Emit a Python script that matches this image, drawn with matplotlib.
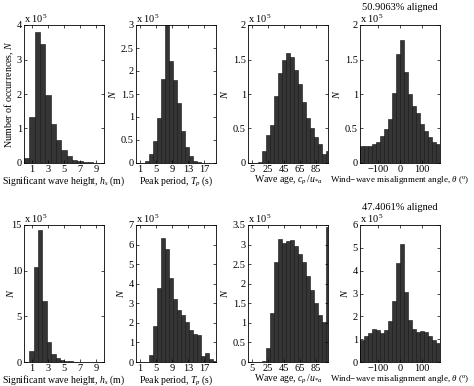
import numpy as np
import matplotlib
matplotlib.use("Agg")
import matplotlib.pyplot as plt
from matplotlib.ticker import FuncFormatter

plt.rcParams['font.family'] = ['Liberation Serif', 'DejaVu Serif']
plt.rcParams['mathtext.fontset'] = 'custom'
plt.rcParams['mathtext.rm'] = 'Liberation Serif'
plt.rcParams['mathtext.it'] = 'Liberation Serif:italic'
plt.rcParams['font.size'] = 7

# ---------------- data (counts in units of 1e5) ----------------
# Significant wave height
hs_edges_top = np.linspace(0, 10, 16)
hs_top = [0.15, 1.33, 3.79, 3.44, 1.98, 1.13, 0.66, 0.37, 0.20, 0.10, 0.06, 0.03, 0.02, 0.01, 0.005]
hs_edges_bot = 0.1 + 0.55 * np.arange(19)
hs_bot = [0.03, 1.2, 10.4, 14.4, 6.65, 2.2, 0.9, 0.4, 0.2, 0.1, 0.06, 0.04, 0.02, 0.01, 0.01, 0.005, 0.005, 0.003]

# Peak period
tp_edges = 0.3 + np.arange(21)
tp_top = [0.002, 0.004, 0.05, 0.2, 0.48, 0.97, 1.82, 3.0, 2.22, 1.8, 1.3, 0.7, 0.35, 0.15, 0.05,
          0.02, 0.01, 0.005, 0.003, 0.002]
tp_bot = [0.002, 0.004, 0.02, 0.38, 1.82, 3.8, 6.33, 5.78, 4.3, 3.22, 2.65, 2.42, 2.05, 1.65, 1.45,
          1.4, 0.3, 0.45, 0.15, 0.05]

# Wave age
wa_edges = -3 + 5 * np.arange(22)
wa_top = [0.0, 0.003, 0.005, 0.01, 0.18, 0.41, 0.55, 0.97, 1.3, 1.5, 1.59, 1.53, 1.35, 1.15, 0.88,
          0.65, 0.5, 0.38, 0.27, 0.13, 0.18]
wa_bot = [0.0, 0.002, 0.004, 0.006, 0.03, 0.37, 1.25, 2.55, 3.13, 3.05, 3.1, 3.12, 2.97, 2.77, 2.55,
          2.2, 1.85, 1.5, 1.2, 1.02, 3.45]

# Misalignment angle
th_edges = np.linspace(-180, 180, 21)
th_top = [0.25, 0.24, 0.24, 0.27, 0.31, 0.39, 0.49, 0.64, 1.01, 1.58, 1.78, 1.32, 1.0, 0.82, 0.72,
          0.57, 0.47, 0.38, 0.31, 0.27]
th_bot = [0.95, 1.15, 1.25, 1.45, 1.38, 1.28, 1.42, 1.78, 2.65, 4.35, 5.17, 3.05, 1.82, 1.45, 1.3,
          1.35, 1.3, 1.15, 0.95, 0.85]

titles = ['50.9063% aligned', '47.4061% aligned']

xlabels = [r'Significant wave height, $h_s$ (m)',
           r'Peak period, $T_p$ (s)',
           r'Wave age, $c_p\,/u_{*a}$',
           r'Wind$-$wave misalignment angle, $\theta$ ($^{\rm o}$)']

xlims = [(0, 10), (0, 20), (0, 100), (-180, 180)]
xticks = [[1, 3, 5, 7, 9], [1, 5, 9, 13, 17], [5, 25, 45, 65, 85], [-100, 0, 100]]
ylims_top = [4, 3, 2, 2]
ylims_bot = [15, 7, 3.5, 6]
yticks_top = [np.arange(0, 4.1, 1), np.arange(0, 3.01, 0.5), np.arange(0, 2.01, 0.5), np.arange(0, 2.01, 0.5)]
yticks_bot = [np.arange(0, 15.1, 5), np.arange(0, 7.1, 1), np.arange(0, 3.51, 0.5), np.arange(0, 6.1, 1)]

rows = [
    [(hs_edges_top, hs_top), (tp_edges, tp_top), (wa_edges, wa_top), (th_edges, th_top)],
    [(hs_edges_bot, hs_bot), (tp_edges, tp_bot), (wa_edges, wa_bot), (th_edges, th_bot)],
]

W, H = 474, 386
fig = plt.figure(figsize=(W / 100, H / 100), dpi=100)

lefts = [24, 136, 248, 360]
row_px = [(25, 163), (225, 362)]
axw = 80

fmt = FuncFormatter(lambda v, p: ('%g' % v))

for r in range(2):
    top, bot = row_px[r]
    for c in range(4):
        ax = fig.add_axes([lefts[c] / W, (H - bot) / H, axw / W, (bot - top) / H])
        edges, vals = rows[r][c]
        edges = np.asarray(edges, float)
        vals = np.asarray(vals, float)
        widths = np.diff(edges)[:len(vals)]
        ax.bar(edges[:len(vals)], vals, width=widths, align='edge',
               color='#353535', edgecolor='#111111', linewidth=0.4)
        ax.set_xlim(*xlims[c])
        ylim = ylims_top[c] if r == 0 else ylims_bot[c]
        ax.set_ylim(0, ylim)
        ax.set_xticks(xticks[c])
        ax.set_yticks(yticks_top[c] if r == 0 else yticks_bot[c])
        ax.yaxis.set_major_formatter(fmt)
        ax.tick_params(direction='in', length=2, width=0.5, top=True, right=True, pad=1.5,
                       labelsize=7.5)
        for s in ax.spines.values():
            s.set_linewidth(0.6)
        xfs = 6.5 if c == 3 else 7
        ax.set_xlabel(xlabels[c], fontsize=xfs, labelpad=0)
        if r == 0 and c == 0:
            ax.set_ylabel(r'Number of occurrences, $N$', fontsize=7.2, labelpad=0.5)
        else:
            ax.set_ylabel(r'$N$', fontsize=7.5, labelpad=2)
            if c == 0:
                ax.yaxis.set_label_coords(-0.1, 0.5)
        ax.text(0.0, 1.0, r'x 10$^5$', transform=ax.transAxes, ha='left', va='bottom', fontsize=7.5)
        if c == 3:
            ax.set_title(titles[r], fontsize=7.5, pad=10.5)

fig.savefig('out.png', dpi=100)
